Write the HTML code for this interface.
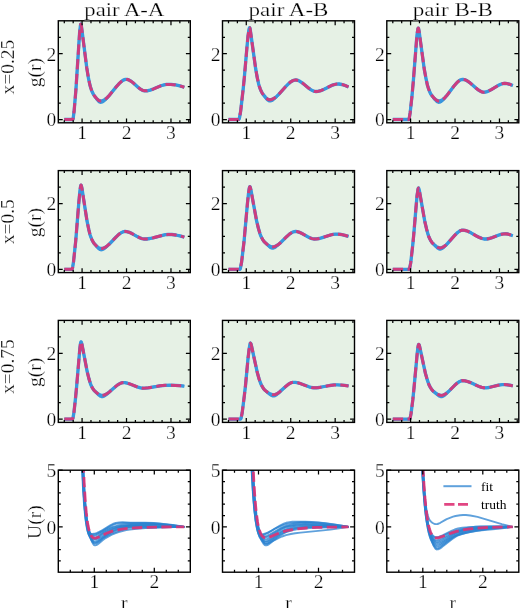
<!DOCTYPE html><html><head><meta charset="utf-8"><style>html,body{margin:0;padding:0;background:#fff;}svg{display:block;}</style></head><body>
<svg width="520" height="608" viewBox="0 0 520 608">
<rect x="0" y="0" width="520" height="608" fill="#fff"/>
<defs>
<clipPath id="c00"><rect x="58.30" y="20.80" width="132.00" height="102.00"/></clipPath>
<clipPath id="c01"><rect x="222.50" y="20.80" width="132.00" height="102.00"/></clipPath>
<clipPath id="c02"><rect x="386.80" y="20.80" width="132.00" height="102.00"/></clipPath>
<clipPath id="c10"><rect x="58.30" y="170.60" width="132.00" height="102.00"/></clipPath>
<clipPath id="c11"><rect x="222.50" y="170.60" width="132.00" height="102.00"/></clipPath>
<clipPath id="c12"><rect x="386.80" y="170.60" width="132.00" height="102.00"/></clipPath>
<clipPath id="c20"><rect x="58.30" y="320.40" width="132.00" height="102.00"/></clipPath>
<clipPath id="c21"><rect x="222.50" y="320.40" width="132.00" height="102.00"/></clipPath>
<clipPath id="c22"><rect x="386.80" y="320.40" width="132.00" height="102.00"/></clipPath>
<clipPath id="c30"><rect x="58.30" y="470.20" width="132.00" height="102.00"/></clipPath>
<clipPath id="c31"><rect x="222.50" y="470.20" width="132.00" height="102.00"/></clipPath>
<clipPath id="c32"><rect x="386.80" y="470.20" width="132.00" height="102.00"/></clipPath>
</defs>
<rect x="58.30" y="20.80" width="132.00" height="102.00" fill="#e6f1e5"/>
<g clip-path="url(#c00)" fill="none" stroke-linejoin="round">
<path d="M64.3,119.5L72.7,119.5L72.9,119.3L73.2,118.1L74.1,111.3L75.9,89.9L79.6,32.7L80.4,25.8L80.7,24.2L80.8,24.1L81.3,25.4L81.7,28.3L86.7,67.4L88.3,77.3L89.7,84.1L90.3,86.4L91.3,89.7L92.4,92.5L93.3,94.4L96.9,99.8L98.1,101.3L99.3,102.3L100.3,102.7L101.5,102.6L102.9,102.1L104.4,101.0L106.1,99.4L108.0,97.2L116.1,87.0L119.1,83.5L120.8,82.0L122.4,80.7L123.9,79.9L125.4,79.4L126.5,79.4L127.7,79.5L128.9,80.0L130.2,80.7L132.8,82.5L138.0,87.2L140.1,88.9L142.4,90.2L143.4,90.6L144.5,90.8L147.1,90.8L150.1,90.1L153.1,89.1L161.6,85.5L164.2,84.8L166.6,84.4L170.9,84.4L175.6,84.9L179.9,85.9L184.3,87.3" stroke="#3896de" stroke-width="2.4"/>
<path d="M64.3,119.5L72.7,119.5L72.9,119.3L73.2,118.1L74.1,111.3L75.9,89.9L79.6,32.7L80.4,25.8L80.7,24.2L80.8,24.1L81.3,25.4L81.7,28.3L86.7,67.4L88.3,77.3L89.7,84.0L90.3,86.4L91.3,89.6L92.4,92.3L93.3,94.1L94.3,95.7L96.4,98.3L97.6,99.5L98.8,100.5L99.6,100.8L100.3,101.1L101.8,101.0L103.6,100.3L105.6,99.0L107.4,97.4L109.4,95.3L116.6,86.4L119.6,83.1L121.2,81.6L122.7,80.5L124.1,79.8L125.4,79.4L126.5,79.4L127.7,79.5L128.9,80.0L130.2,80.7L132.8,82.5L138.0,87.2L140.1,88.9L142.4,90.2L143.4,90.6L144.5,90.8L147.1,90.8L150.1,90.1L153.1,89.1L161.6,85.5L164.2,84.8L166.6,84.4L170.9,84.4L175.6,84.9L179.9,85.9L184.3,87.3" stroke="#3896de" stroke-width="3.3"/>
<path d="M64.3,119.5L72.7,119.5L72.9,119.3L73.2,118.1L74.1,111.3L75.9,89.9L79.6,32.7L80.4,25.8L80.7,24.2L80.8,24.1L81.3,25.4L81.7,28.3L86.7,67.4L88.3,77.3L89.7,84.0L90.3,86.4L91.3,89.6L92.4,92.3L93.3,94.1L94.3,95.7L96.4,98.3L97.6,99.5L98.8,100.5L99.6,100.8L100.3,101.1L101.8,101.0L103.6,100.3L105.6,99.0L107.4,97.4L109.4,95.3L116.6,86.4L119.6,83.1L121.2,81.6L122.7,80.5L124.1,79.8L125.4,79.4L126.5,79.4L127.7,79.5L128.9,80.0L130.2,80.7L132.8,82.5L138.0,87.2L140.1,88.9L142.4,90.2L143.4,90.6L144.5,90.8L147.1,90.8L150.1,90.1L153.1,89.1L161.6,85.5L164.2,84.8L166.6,84.4L170.9,84.4L175.6,84.9L179.9,85.9L184.3,87.3" stroke="#de3274" stroke-width="3.0" stroke-opacity="0.9" stroke-dasharray="10.3 4.4"/>
</g>
<path d="M64.30 122.80v-2.50M64.30 20.80v2.50M73.19 122.80v-2.50M73.19 20.80v2.50M90.97 122.80v-2.50M90.97 20.80v2.50M99.86 122.80v-2.50M99.86 20.80v2.50M108.74 122.80v-2.50M108.74 20.80v2.50M117.63 122.80v-2.50M117.63 20.80v2.50M135.41 122.80v-2.50M135.41 20.80v2.50M144.30 122.80v-2.50M144.30 20.80v2.50M153.19 122.80v-2.50M153.19 20.80v2.50M162.08 122.80v-2.50M162.08 20.80v2.50M179.86 122.80v-2.50M179.86 20.80v2.50M188.74 122.80v-2.50M188.74 20.80v2.50M82.08 122.80v-4.40M82.08 20.80v4.40M126.52 122.80v-4.40M126.52 20.80v4.40M170.97 122.80v-4.40M170.97 20.80v4.40M58.30 103.06h2.50M190.30 103.06h-2.50M58.30 86.61h2.50M190.30 86.61h-2.50M58.30 70.15h2.50M190.30 70.15h-2.50M58.30 37.25h2.50M190.30 37.25h-2.50M58.30 119.51h4.40M190.30 119.51h-4.40M58.30 53.70h4.40M190.30 53.70h-4.40" stroke="#000" stroke-width="1.25" fill="none"/>
<rect x="58.30" y="20.80" width="132.00" height="102.00" fill="none" stroke="#000" stroke-width="1.4"/>
<rect x="222.50" y="20.80" width="132.00" height="102.00" fill="#e6f1e5"/>
<g clip-path="url(#c01)" fill="none" stroke-linejoin="round">
<path d="M228.5,119.5L238.7,119.5L239.0,119.2L239.5,117.6L240.2,113.9L240.7,110.8L243.2,88.8L244.3,77.9L247.0,46.7L248.0,36.1L248.9,30.0L249.2,28.5L249.5,27.8L249.7,27.7L250.0,28.4L250.4,30.7L255.7,68.9L257.3,78.0L258.7,84.1L259.3,86.2L260.3,89.2L261.4,91.8L262.3,93.6L265.9,98.6L267.1,100.0L268.3,100.9L269.4,101.4L270.6,101.3L271.9,100.9L273.4,99.9L275.1,98.4L277.0,96.4L285.3,87.0L288.3,83.9L289.9,82.5L291.6,81.3L293.1,80.6L294.6,80.1L295.8,80.0L297.1,80.2L298.5,80.6L299.8,81.3L302.7,83.2L308.2,87.8L310.7,89.6L313.1,90.9L314.3,91.3L315.3,91.5L316.5,91.5L317.9,91.4L320.7,90.7L323.7,89.4L331.7,85.4L334.1,84.6L336.3,84.1L338.9,84.0L341.9,84.5L345.0,85.4L348.5,86.9" stroke="#3896de" stroke-width="2.4"/>
<path d="M228.5,119.5L238.7,119.5L239.0,119.2L239.5,117.6L240.2,113.9L240.7,110.8L243.2,88.8L244.3,77.9L247.0,46.7L248.0,36.1L248.9,30.0L249.2,28.5L249.5,27.8L249.7,27.7L250.0,28.4L250.4,30.7L255.7,68.9L257.3,77.9L258.7,84.1L259.3,86.2L260.3,89.1L261.4,91.6L262.3,93.3L263.5,94.9L265.4,97.1L266.6,98.3L267.8,99.2L269.4,99.7L270.9,99.7L272.8,99.0L274.8,97.9L276.6,96.4L278.5,94.6L285.9,86.4L288.9,83.4L290.5,82.0L292.0,81.1L293.4,80.4L294.7,80.1L295.9,80.0L297.1,80.2L298.5,80.6L299.8,81.3L302.7,83.2L308.2,87.8L310.7,89.6L313.1,90.9L314.3,91.3L315.3,91.5L316.5,91.5L317.9,91.4L320.7,90.7L323.7,89.4L331.7,85.4L334.1,84.6L336.3,84.1L338.9,84.0L341.9,84.5L345.0,85.4L348.5,86.9" stroke="#3896de" stroke-width="3.3"/>
<path d="M228.5,119.5L238.7,119.5L239.0,119.2L239.5,117.6L240.2,113.9L240.7,110.8L243.2,88.8L244.3,77.9L247.0,46.7L248.0,36.1L248.9,30.0L249.2,28.5L249.5,27.8L249.7,27.7L250.0,28.4L250.4,30.7L255.7,68.9L257.3,77.9L258.7,84.1L259.3,86.2L260.3,89.1L261.4,91.6L262.3,93.3L263.5,94.9L265.4,97.1L266.6,98.3L267.8,99.2L269.4,99.7L270.9,99.7L272.8,99.0L274.8,97.9L276.6,96.4L278.5,94.6L285.9,86.4L288.9,83.4L290.5,82.0L292.0,81.1L293.4,80.4L294.7,80.1L295.9,80.0L297.1,80.2L298.5,80.6L299.8,81.3L302.7,83.2L308.2,87.8L310.7,89.6L313.1,90.9L314.3,91.3L315.3,91.5L316.5,91.5L317.9,91.4L320.7,90.7L323.7,89.4L331.7,85.4L334.1,84.6L336.3,84.1L338.9,84.0L341.9,84.5L345.0,85.4L348.5,86.9" stroke="#de3274" stroke-width="3.0" stroke-opacity="0.9" stroke-dasharray="10.3 4.4"/>
</g>
<path d="M228.50 122.80v-2.50M228.50 20.80v2.50M237.39 122.80v-2.50M237.39 20.80v2.50M255.17 122.80v-2.50M255.17 20.80v2.50M264.06 122.80v-2.50M264.06 20.80v2.50M272.94 122.80v-2.50M272.94 20.80v2.50M281.83 122.80v-2.50M281.83 20.80v2.50M299.61 122.80v-2.50M299.61 20.80v2.50M308.50 122.80v-2.50M308.50 20.80v2.50M317.39 122.80v-2.50M317.39 20.80v2.50M326.28 122.80v-2.50M326.28 20.80v2.50M344.06 122.80v-2.50M344.06 20.80v2.50M352.94 122.80v-2.50M352.94 20.80v2.50M246.28 122.80v-4.40M246.28 20.80v4.40M290.72 122.80v-4.40M290.72 20.80v4.40M335.17 122.80v-4.40M335.17 20.80v4.40M222.50 103.06h2.50M354.50 103.06h-2.50M222.50 86.61h2.50M354.50 86.61h-2.50M222.50 70.15h2.50M354.50 70.15h-2.50M222.50 37.25h2.50M354.50 37.25h-2.50M222.50 119.51h4.40M354.50 119.51h-4.40M222.50 53.70h4.40M354.50 53.70h-4.40" stroke="#000" stroke-width="1.25" fill="none"/>
<rect x="222.50" y="20.80" width="132.00" height="102.00" fill="none" stroke="#000" stroke-width="1.4"/>
<rect x="386.80" y="20.80" width="132.00" height="102.00" fill="#e6f1e5"/>
<g clip-path="url(#c02)" fill="none" stroke-linejoin="round">
<path d="M392.8,119.5L408.7,119.5L408.9,119.4L409.2,118.5L410.2,112.4L411.9,96.9L413.4,80.4L416.7,38.1L417.3,32.6L417.9,28.9L418.2,28.1L418.3,28.1L418.6,28.9L419.1,31.3L424.3,69.4L426.1,79.3L427.5,85.3L429.1,90.4L430.2,93.0L431.1,94.7L434.9,100.0L436.1,101.3L437.3,102.2L438.5,102.7L439.7,102.6L441.0,102.0L442.4,100.9L443.9,99.4L445.5,97.4L453.0,87.2L456.0,83.6L457.5,82.0L459.0,80.8L460.4,80.0L461.7,79.5L462.9,79.4L464.3,79.6L465.6,80.0L467.1,80.8L470.0,82.8L475.9,88.0L478.4,90.0L481.0,91.5L482.2,92.0L483.2,92.2L484.4,92.2L485.8,92.0L487.1,91.6L488.6,91.0L491.3,89.6L498.7,85.2L500.8,84.2L502.7,83.6L504.8,83.3L507.2,83.6L509.8,84.3L512.8,85.6" stroke="#3896de" stroke-width="2.4"/>
<path d="M392.8,119.5L408.7,119.5L408.9,119.4L409.2,118.5L410.2,112.4L411.9,96.9L413.4,80.4L416.7,38.1L417.3,32.6L417.9,28.9L418.2,28.1L418.3,28.1L418.6,28.9L419.1,31.3L424.3,69.4L426.0,78.5L427.3,84.7L428.1,87.4L429.0,89.9L430.0,92.5L430.9,94.2L431.7,95.3L434.1,98.2L435.5,99.5L436.7,100.4L438.2,101.0L439.7,101.0L441.5,100.3L443.3,99.1L444.9,97.6L446.9,95.4L453.8,86.3L456.5,83.1L458.0,81.6L459.3,80.6L460.7,79.8L461.9,79.5L463.1,79.4L464.3,79.6L465.6,80.0L467.1,80.8L470.0,82.8L475.9,88.0L478.4,90.0L481.0,91.5L482.2,92.0L483.2,92.2L484.4,92.2L485.8,92.0L487.1,91.6L488.6,91.0L491.3,89.6L498.7,85.2L500.8,84.2L502.7,83.6L504.8,83.3L507.2,83.6L509.8,84.3L512.8,85.6" stroke="#3896de" stroke-width="3.3"/>
<path d="M392.8,119.5L408.7,119.5L408.9,119.4L409.2,118.5L410.2,112.4L411.9,96.9L413.4,80.4L416.7,38.1L417.3,32.6L417.9,28.9L418.2,28.1L418.3,28.1L418.6,28.9L419.1,31.3L424.3,69.4L426.0,78.5L427.3,84.7L428.1,87.4L429.0,89.9L430.0,92.5L430.9,94.2L431.7,95.3L434.1,98.2L435.5,99.5L436.7,100.4L438.2,101.0L439.7,101.0L441.5,100.3L443.3,99.1L444.9,97.6L446.9,95.4L453.8,86.3L456.5,83.1L458.0,81.6L459.3,80.6L460.7,79.8L461.9,79.5L463.1,79.4L464.3,79.6L465.6,80.0L467.1,80.8L470.0,82.8L475.9,88.0L478.4,90.0L481.0,91.5L482.2,92.0L483.2,92.2L484.4,92.2L485.8,92.0L487.1,91.6L488.6,91.0L491.3,89.6L498.7,85.2L500.8,84.2L502.7,83.6L504.8,83.3L507.2,83.6L509.8,84.3L512.8,85.6" stroke="#de3274" stroke-width="3.0" stroke-opacity="0.9" stroke-dasharray="10.3 4.4"/>
</g>
<path d="M392.80 122.80v-2.50M392.80 20.80v2.50M401.69 122.80v-2.50M401.69 20.80v2.50M419.47 122.80v-2.50M419.47 20.80v2.50M428.36 122.80v-2.50M428.36 20.80v2.50M437.24 122.80v-2.50M437.24 20.80v2.50M446.13 122.80v-2.50M446.13 20.80v2.50M463.91 122.80v-2.50M463.91 20.80v2.50M472.80 122.80v-2.50M472.80 20.80v2.50M481.69 122.80v-2.50M481.69 20.80v2.50M490.58 122.80v-2.50M490.58 20.80v2.50M508.36 122.80v-2.50M508.36 20.80v2.50M517.24 122.80v-2.50M517.24 20.80v2.50M410.58 122.80v-4.40M410.58 20.80v4.40M455.02 122.80v-4.40M455.02 20.80v4.40M499.47 122.80v-4.40M499.47 20.80v4.40M386.80 103.06h2.50M518.80 103.06h-2.50M386.80 86.61h2.50M518.80 86.61h-2.50M386.80 70.15h2.50M518.80 70.15h-2.50M386.80 37.25h2.50M518.80 37.25h-2.50M386.80 119.51h4.40M518.80 119.51h-4.40M386.80 53.70h4.40M518.80 53.70h-4.40" stroke="#000" stroke-width="1.25" fill="none"/>
<rect x="386.80" y="20.80" width="132.00" height="102.00" fill="none" stroke="#000" stroke-width="1.4"/>
<rect x="58.30" y="170.60" width="132.00" height="102.00" fill="#e6f1e5"/>
<g clip-path="url(#c10)" fill="none" stroke-linejoin="round">
<path d="M64.3,269.3L72.0,269.3L72.3,268.9L72.7,267.0L73.6,261.2L75.7,241.1L78.7,203.8L79.8,192.1L80.5,186.7L81.0,185.1L81.1,185.1L81.4,185.8L81.9,188.0L87.0,220.9L88.8,229.6L90.1,235.0L90.7,236.9L91.9,239.8L93.7,243.3L97.5,247.9L98.7,249.1L99.9,249.9L100.9,250.2L102.0,250.1L103.2,249.7L104.6,248.8L107.4,246.3L115.2,237.9L118.4,234.8L120.0,233.5L121.5,232.5L123.0,231.9L124.4,231.5L125.4,231.5L126.6,231.6L129.3,232.3L132.0,233.6L137.3,236.6L139.5,237.7L141.8,238.6L143.9,239.0L146.6,239.0L149.9,238.5L153.2,237.8L162.5,235.3L165.5,234.7L168.1,234.5L171.8,234.5L175.7,235.0L179.8,235.8L184.3,237.1" stroke="#3896de" stroke-width="2.4"/>
<path d="M64.3,269.3L72.0,269.3L72.3,268.9L72.7,267.0L73.6,261.2L75.7,241.1L78.7,203.8L79.8,192.1L80.5,186.7L81.0,185.1L81.1,185.1L81.4,185.8L81.9,188.0L87.0,220.9L88.8,229.6L90.1,235.0L91.8,239.4L92.7,241.2L93.6,242.7L94.3,243.7L96.7,246.2L98.1,247.3L99.3,248.1L100.6,248.5L102.1,248.5L103.9,248.0L105.8,247.0L107.4,245.7L109.4,244.0L116.1,237.0L118.8,234.4L120.3,233.3L121.8,232.4L123.2,231.8L124.4,231.5L125.4,231.5L126.6,231.6L129.3,232.3L132.0,233.6L137.3,236.6L139.5,237.7L141.8,238.6L143.9,239.0L146.6,239.0L149.9,238.5L153.2,237.8L162.5,235.3L165.5,234.7L168.1,234.5L171.8,234.5L175.7,235.0L179.8,235.8L184.3,237.1" stroke="#3896de" stroke-width="3.3"/>
<path d="M64.3,269.3L72.0,269.3L72.3,268.9L72.7,267.0L73.6,261.2L75.7,241.1L78.7,203.8L79.8,192.1L80.5,186.7L81.0,185.1L81.1,185.1L81.4,185.8L81.9,188.0L87.0,220.9L88.8,229.6L90.1,235.0L91.8,239.4L92.7,241.2L93.6,242.7L94.3,243.7L96.7,246.2L98.1,247.3L99.3,248.1L100.6,248.5L102.1,248.5L103.9,248.0L105.8,247.0L107.4,245.7L109.4,244.0L116.1,237.0L118.8,234.4L120.3,233.3L121.8,232.4L123.2,231.8L124.4,231.5L125.4,231.5L126.6,231.6L129.3,232.3L132.0,233.6L137.3,236.6L139.5,237.7L141.8,238.6L143.9,239.0L146.6,239.0L149.9,238.5L153.2,237.8L162.5,235.3L165.5,234.7L168.1,234.5L171.8,234.5L175.7,235.0L179.8,235.8L184.3,237.1" stroke="#de3274" stroke-width="3.0" stroke-opacity="0.9" stroke-dasharray="10.3 4.4"/>
</g>
<path d="M64.30 272.60v-2.50M64.30 170.60v2.50M73.19 272.60v-2.50M73.19 170.60v2.50M90.97 272.60v-2.50M90.97 170.60v2.50M99.86 272.60v-2.50M99.86 170.60v2.50M108.74 272.60v-2.50M108.74 170.60v2.50M117.63 272.60v-2.50M117.63 170.60v2.50M135.41 272.60v-2.50M135.41 170.60v2.50M144.30 272.60v-2.50M144.30 170.60v2.50M153.19 272.60v-2.50M153.19 170.60v2.50M162.08 272.60v-2.50M162.08 170.60v2.50M179.86 272.60v-2.50M179.86 170.60v2.50M188.74 272.60v-2.50M188.74 170.60v2.50M82.08 272.60v-4.40M82.08 170.60v4.40M126.52 272.60v-4.40M126.52 170.60v4.40M170.97 272.60v-4.40M170.97 170.60v4.40M58.30 252.86h2.50M190.30 252.86h-2.50M58.30 236.41h2.50M190.30 236.41h-2.50M58.30 219.95h2.50M190.30 219.95h-2.50M58.30 187.05h2.50M190.30 187.05h-2.50M58.30 269.31h4.40M190.30 269.31h-4.40M58.30 203.50h4.40M190.30 203.50h-4.40" stroke="#000" stroke-width="1.25" fill="none"/>
<rect x="58.30" y="170.60" width="132.00" height="102.00" fill="none" stroke="#000" stroke-width="1.4"/>
<rect x="222.50" y="170.60" width="132.00" height="102.00" fill="#e6f1e5"/>
<g clip-path="url(#c11)" fill="none" stroke-linejoin="round">
<path d="M228.5,269.3L239.9,269.3L240.2,268.8L240.5,267.8L241.6,262.1L244.0,241.8L247.4,203.8L248.5,193.5L249.2,188.6L249.5,187.3L249.8,186.7L250.0,186.8L250.3,187.4L250.9,189.9L256.6,220.9L258.5,228.9L260.0,233.9L260.8,235.9L261.8,238.1L262.9,240.0L263.9,241.6L268.3,246.2L269.7,247.4L270.9,248.2L272.1,248.5L273.1,248.5L274.3,248.2L275.7,247.4L278.2,245.2L285.7,237.6L288.9,234.6L290.5,233.4L292.0,232.5L293.4,231.9L294.7,231.5L295.8,231.5L297.0,231.6L299.5,232.3L302.2,233.6L307.3,236.5L309.6,237.7L311.9,238.6L314.0,239.0L316.5,238.9L319.4,238.5L322.4,237.6L330.5,235.0L333.0,234.4L335.3,234.1L338.3,234.2L341.4,234.5L344.7,235.3L348.5,236.4" stroke="#3896de" stroke-width="2.4"/>
<path d="M228.5,269.3L239.9,269.3L240.2,268.8L240.5,267.8L241.6,262.1L244.0,241.8L247.4,203.8L248.5,193.5L249.2,188.6L249.5,187.3L249.8,186.7L250.0,186.8L250.3,187.4L250.9,189.9L256.6,220.9L258.4,228.3L259.9,233.5L260.6,235.5L261.7,237.7L262.7,239.6L263.8,241.2L264.7,242.2L267.1,244.3L268.6,245.5L270.0,246.3L271.6,246.8L273.1,246.9L274.9,246.5L276.7,245.6L278.4,244.5L280.2,243.0L286.9,236.4L289.6,234.0L291.0,233.1L292.3,232.3L293.7,231.8L294.9,231.5L295.9,231.5L297.1,231.6L299.5,232.3L302.2,233.6L307.3,236.5L309.6,237.7L311.9,238.6L314.0,239.0L316.5,238.9L319.4,238.5L322.4,237.6L330.5,235.0L333.0,234.4L335.3,234.1L338.3,234.2L341.4,234.5L344.7,235.3L348.5,236.4" stroke="#3896de" stroke-width="3.3"/>
<path d="M228.5,269.3L239.9,269.3L240.2,268.8L240.5,267.8L241.6,262.1L244.0,241.8L247.4,203.8L248.5,193.5L249.2,188.6L249.5,187.3L249.8,186.7L250.0,186.8L250.3,187.4L250.9,189.9L256.6,220.9L258.4,228.3L259.9,233.5L260.6,235.5L261.7,237.7L262.7,239.6L263.8,241.2L264.7,242.2L267.1,244.3L268.6,245.5L270.0,246.3L271.6,246.8L273.1,246.9L274.9,246.5L276.7,245.6L278.4,244.5L280.2,243.0L286.9,236.4L289.6,234.0L291.0,233.1L292.3,232.3L293.7,231.8L294.9,231.5L295.9,231.5L297.1,231.6L299.5,232.3L302.2,233.6L307.3,236.5L309.6,237.7L311.9,238.6L314.0,239.0L316.5,238.9L319.4,238.5L322.4,237.6L330.5,235.0L333.0,234.4L335.3,234.1L338.3,234.2L341.4,234.5L344.7,235.3L348.5,236.4" stroke="#de3274" stroke-width="3.0" stroke-opacity="0.9" stroke-dasharray="10.3 4.4"/>
</g>
<path d="M228.50 272.60v-2.50M228.50 170.60v2.50M237.39 272.60v-2.50M237.39 170.60v2.50M255.17 272.60v-2.50M255.17 170.60v2.50M264.06 272.60v-2.50M264.06 170.60v2.50M272.94 272.60v-2.50M272.94 170.60v2.50M281.83 272.60v-2.50M281.83 170.60v2.50M299.61 272.60v-2.50M299.61 170.60v2.50M308.50 272.60v-2.50M308.50 170.60v2.50M317.39 272.60v-2.50M317.39 170.60v2.50M326.28 272.60v-2.50M326.28 170.60v2.50M344.06 272.60v-2.50M344.06 170.60v2.50M352.94 272.60v-2.50M352.94 170.60v2.50M246.28 272.60v-4.40M246.28 170.60v4.40M290.72 272.60v-4.40M290.72 170.60v4.40M335.17 272.60v-4.40M335.17 170.60v4.40M222.50 252.86h2.50M354.50 252.86h-2.50M222.50 236.41h2.50M354.50 236.41h-2.50M222.50 219.95h2.50M354.50 219.95h-2.50M222.50 187.05h2.50M354.50 187.05h-2.50M222.50 269.31h4.40M354.50 269.31h-4.40M222.50 203.50h4.40M354.50 203.50h-4.40" stroke="#000" stroke-width="1.25" fill="none"/>
<rect x="222.50" y="170.60" width="132.00" height="102.00" fill="none" stroke="#000" stroke-width="1.4"/>
<rect x="386.80" y="170.60" width="132.00" height="102.00" fill="#e6f1e5"/>
<g clip-path="url(#c12)" fill="none" stroke-linejoin="round">
<path d="M392.8,269.3L409.2,269.3L409.3,269.2L409.6,268.5L410.7,263.0L412.8,244.5L413.7,235.2L416.1,206.3L417.1,195.2L417.9,189.9L418.2,188.5L418.5,188.0L418.9,188.9L419.4,190.9L424.8,221.5L426.6,229.2L428.1,234.6L428.8,236.7L429.9,239.0L430.9,241.0L432.0,242.7L436.1,247.2L437.4,248.4L438.5,249.1L439.7,249.5L440.9,249.5L442.1,249.0L443.4,248.1L446.1,245.4L453.3,236.9L456.2,233.8L457.7,232.5L459.2,231.4L460.5,230.7L461.9,230.2L462.9,230.2L464.4,230.3L465.9,230.6L467.4,231.1L470.6,232.6L476.6,236.1L479.2,237.4L481.7,238.4L484.1,239.0L486.5,239.0L489.4,238.5L492.2,237.6L499.6,234.8L501.7,234.2L503.6,233.9L505.7,233.8L507.7,234.0L509.9,234.7L512.8,235.7" stroke="#3896de" stroke-width="2.4"/>
<path d="M392.8,269.3L409.2,269.3L409.3,269.2L409.6,268.5L410.7,263.0L412.8,244.5L413.7,235.2L416.1,206.3L417.1,195.2L417.9,189.9L418.2,188.5L418.5,188.0L418.9,188.9L419.4,190.9L424.8,221.5L426.6,229.2L428.1,234.6L428.8,236.7L429.9,239.0L430.9,240.9L431.8,242.3L432.7,243.3L435.0,245.4L436.5,246.5L437.7,247.3L439.4,247.9L440.9,247.9L442.5,247.4L444.3,246.3L446.0,245.0L447.8,243.2L454.2,235.9L456.9,233.1L458.3,232.0L459.6,231.1L460.8,230.5L462.0,230.2L463.2,230.2L464.6,230.3L466.1,230.7L467.6,231.2L470.6,232.6L476.6,236.1L479.2,237.4L481.7,238.4L484.1,239.0L486.5,239.0L489.4,238.5L492.2,237.6L499.6,234.8L501.7,234.2L503.6,233.9L505.7,233.8L507.7,234.0L509.9,234.7L512.8,235.7" stroke="#3896de" stroke-width="3.3"/>
<path d="M392.8,269.3L409.2,269.3L409.3,269.2L409.6,268.5L410.7,263.0L412.8,244.5L413.7,235.2L416.1,206.3L417.1,195.2L417.9,189.9L418.2,188.5L418.5,188.0L418.9,188.9L419.4,190.9L424.8,221.5L426.6,229.2L428.1,234.6L428.8,236.7L429.9,239.0L430.9,240.9L431.8,242.3L432.7,243.3L435.0,245.4L436.5,246.5L437.7,247.3L439.4,247.9L440.9,247.9L442.5,247.4L444.3,246.3L446.0,245.0L447.8,243.2L454.2,235.9L456.9,233.1L458.3,232.0L459.6,231.1L460.8,230.5L462.0,230.2L463.2,230.2L464.6,230.3L466.1,230.7L467.6,231.2L470.6,232.6L476.6,236.1L479.2,237.4L481.7,238.4L484.1,239.0L486.5,239.0L489.4,238.5L492.2,237.6L499.6,234.8L501.7,234.2L503.6,233.9L505.7,233.8L507.7,234.0L509.9,234.7L512.8,235.7" stroke="#de3274" stroke-width="3.0" stroke-opacity="0.9" stroke-dasharray="10.3 4.4"/>
</g>
<path d="M392.80 272.60v-2.50M392.80 170.60v2.50M401.69 272.60v-2.50M401.69 170.60v2.50M419.47 272.60v-2.50M419.47 170.60v2.50M428.36 272.60v-2.50M428.36 170.60v2.50M437.24 272.60v-2.50M437.24 170.60v2.50M446.13 272.60v-2.50M446.13 170.60v2.50M463.91 272.60v-2.50M463.91 170.60v2.50M472.80 272.60v-2.50M472.80 170.60v2.50M481.69 272.60v-2.50M481.69 170.60v2.50M490.58 272.60v-2.50M490.58 170.60v2.50M508.36 272.60v-2.50M508.36 170.60v2.50M517.24 272.60v-2.50M517.24 170.60v2.50M410.58 272.60v-4.40M410.58 170.60v4.40M455.02 272.60v-4.40M455.02 170.60v4.40M499.47 272.60v-4.40M499.47 170.60v4.40M386.80 252.86h2.50M518.80 252.86h-2.50M386.80 236.41h2.50M518.80 236.41h-2.50M386.80 219.95h2.50M518.80 219.95h-2.50M386.80 187.05h2.50M518.80 187.05h-2.50M386.80 269.31h4.40M518.80 269.31h-4.40M386.80 203.50h4.40M518.80 203.50h-4.40" stroke="#000" stroke-width="1.25" fill="none"/>
<rect x="386.80" y="170.60" width="132.00" height="102.00" fill="none" stroke="#000" stroke-width="1.4"/>
<rect x="58.30" y="320.40" width="132.00" height="102.00" fill="#e6f1e5"/>
<g clip-path="url(#c20)" fill="none" stroke-linejoin="round">
<path d="M64.3,419.1L72.6,419.1L73.0,417.9L73.9,412.8L75.4,399.3L76.6,386.8L79.8,348.9L80.5,343.4L81.0,341.8L81.1,341.8L81.4,342.4L81.9,344.1L87.3,372.2L89.1,379.3L90.4,383.7L91.2,385.6L92.2,387.7L94.2,390.8L98.2,395.0L99.6,396.1L100.6,396.7L101.7,397.0L102.7,397.0L103.8,396.7L105.0,396.0L107.3,394.3L113.9,388.0L117.0,385.4L118.5,384.3L120.0,383.5L121.4,382.9L122.6,382.6L124.8,382.7L127.5,383.2L130.4,384.2L138.0,387.2L140.4,387.8L142.7,388.2L145.4,388.1L148.4,387.8L160.1,385.8L165.1,385.3L170.0,385.2L175.4,385.4L180.1,385.7L184.3,386.2" stroke="#3896de" stroke-width="2.4"/>
<path d="M64.3,419.1L72.6,419.1L73.0,417.9L73.9,412.8L75.4,399.3L76.6,386.8L79.8,348.9L80.5,343.4L81.0,341.8L81.1,341.8L81.4,342.4L81.9,344.1L87.3,372.2L89.1,379.3L90.4,383.6L91.2,385.5L92.2,387.6L93.3,389.3L94.2,390.5L97.3,393.3L98.7,394.3L99.9,394.9L101.2,395.3L102.6,395.4L104.2,395.0L105.9,394.3L107.4,393.4L109.2,392.1L115.4,386.7L117.9,384.7L120.5,383.3L121.7,382.8L122.7,382.6L125.0,382.7L127.5,383.2L130.4,384.2L138.0,387.2L140.4,387.8L142.7,388.2L145.4,388.1L148.4,387.8L160.1,385.8L165.1,385.3L170.0,385.2L175.4,385.4L180.1,385.7L184.3,386.2" stroke="#3896de" stroke-width="3.3"/>
<path d="M64.3,419.1L72.6,419.1L73.0,417.9L73.9,412.8L75.4,399.3L76.6,386.8L79.8,348.9L80.5,343.4L81.0,341.8L81.1,341.8L81.4,342.4L81.9,344.1L87.3,372.2L89.1,379.3L90.4,383.6L91.2,385.5L92.2,387.6L93.3,389.3L94.2,390.5L97.3,393.3L98.7,394.3L99.9,394.9L101.2,395.3L102.6,395.4L104.2,395.0L105.9,394.3L107.4,393.4L109.2,392.1L115.4,386.7L117.9,384.7L120.5,383.3L121.7,382.8L122.7,382.6L125.0,382.7L127.5,383.2L130.4,384.2L138.0,387.2L140.4,387.8L142.7,388.2L145.4,388.1L148.4,387.8L160.1,385.8L165.1,385.3L170.0,385.2L175.4,385.4L180.1,385.7L184.3,386.2" stroke="#de3274" stroke-width="3.0" stroke-opacity="0.9" stroke-dasharray="10.3 4.4"/>
</g>
<path d="M64.30 422.40v-2.50M64.30 320.40v2.50M73.19 422.40v-2.50M73.19 320.40v2.50M90.97 422.40v-2.50M90.97 320.40v2.50M99.86 422.40v-2.50M99.86 320.40v2.50M108.74 422.40v-2.50M108.74 320.40v2.50M117.63 422.40v-2.50M117.63 320.40v2.50M135.41 422.40v-2.50M135.41 320.40v2.50M144.30 422.40v-2.50M144.30 320.40v2.50M153.19 422.40v-2.50M153.19 320.40v2.50M162.08 422.40v-2.50M162.08 320.40v2.50M179.86 422.40v-2.50M179.86 320.40v2.50M188.74 422.40v-2.50M188.74 320.40v2.50M82.08 422.40v-4.40M82.08 320.40v4.40M126.52 422.40v-4.40M126.52 320.40v4.40M170.97 422.40v-4.40M170.97 320.40v4.40M58.30 402.66h2.50M190.30 402.66h-2.50M58.30 386.21h2.50M190.30 386.21h-2.50M58.30 369.75h2.50M190.30 369.75h-2.50M58.30 336.85h2.50M190.30 336.85h-2.50M58.30 419.11h4.40M190.30 419.11h-4.40M58.30 353.30h4.40M190.30 353.30h-4.40" stroke="#000" stroke-width="1.25" fill="none"/>
<rect x="58.30" y="320.40" width="132.00" height="102.00" fill="none" stroke="#000" stroke-width="1.4"/>
<rect x="222.50" y="320.40" width="132.00" height="102.00" fill="#e6f1e5"/>
<g clip-path="url(#c21)" fill="none" stroke-linejoin="round">
<path d="M228.5,419.1L240.5,419.1L241.0,418.3L241.7,415.2L242.2,412.6L244.4,395.1L245.5,385.5L248.0,358.7L249.1,349.2L250.0,344.1L250.3,343.2L250.4,343.1L250.9,343.7L251.5,345.9L257.2,372.2L259.1,379.0L260.6,383.3L261.4,385.0L262.4,386.9L263.6,388.8L264.7,390.1L269.2,394.3L270.6,395.4L271.8,396.0L272.8,396.4L273.9,396.4L274.9,396.1L276.1,395.5L278.4,393.6L284.5,387.6L287.5,385.0L289.0,383.9L290.4,383.1L291.7,382.6L292.9,382.3L295.3,382.4L298.0,382.9L300.9,383.8L309.0,386.8L311.6,387.5L313.8,387.8L316.4,387.8L319.2,387.5L329.7,385.5L334.1,384.9L337.4,384.9L341.3,385.1L344.9,385.4L348.5,385.9" stroke="#3896de" stroke-width="2.4"/>
<path d="M228.5,419.1L240.5,419.1L241.0,418.3L241.7,415.2L242.2,412.6L244.4,395.1L245.5,385.5L248.0,358.7L249.1,349.2L250.0,344.1L250.3,343.2L250.4,343.1L250.9,343.7L251.5,345.9L257.2,372.2L259.1,379.0L260.6,383.3L261.4,385.0L262.6,387.1L263.6,388.7L264.7,390.0L265.6,390.8L268.0,392.6L270.7,394.1L272.2,394.6L273.7,394.8L275.2,394.5L276.9,393.8L278.4,392.9L280.0,391.6L286.0,386.2L288.4,384.3L290.8,382.9L292.0,382.5L293.1,382.3L295.5,382.4L298.2,382.9L301.0,383.8L309.0,386.8L311.6,387.5L313.8,387.8L316.4,387.8L319.2,387.5L329.7,385.5L334.1,384.9L337.4,384.9L341.3,385.1L344.9,385.4L348.5,385.9" stroke="#3896de" stroke-width="3.3"/>
<path d="M228.5,419.1L240.5,419.1L241.0,418.3L241.7,415.2L242.2,412.6L244.4,395.1L245.5,385.5L248.0,358.7L249.1,349.2L250.0,344.1L250.3,343.2L250.4,343.1L250.9,343.7L251.5,345.9L257.2,372.2L259.1,379.0L260.6,383.3L261.4,385.0L262.6,387.1L263.6,388.7L264.7,390.0L265.6,390.8L268.0,392.6L270.7,394.1L272.2,394.6L273.7,394.8L275.2,394.5L276.9,393.8L278.4,392.9L280.0,391.6L286.0,386.2L288.4,384.3L290.8,382.9L292.0,382.5L293.1,382.3L295.5,382.4L298.2,382.9L301.0,383.8L309.0,386.8L311.6,387.5L313.8,387.8L316.4,387.8L319.2,387.5L329.7,385.5L334.1,384.9L337.4,384.9L341.3,385.1L344.9,385.4L348.5,385.9" stroke="#de3274" stroke-width="3.0" stroke-opacity="0.9" stroke-dasharray="10.3 4.4"/>
</g>
<path d="M228.50 422.40v-2.50M228.50 320.40v2.50M237.39 422.40v-2.50M237.39 320.40v2.50M255.17 422.40v-2.50M255.17 320.40v2.50M264.06 422.40v-2.50M264.06 320.40v2.50M272.94 422.40v-2.50M272.94 320.40v2.50M281.83 422.40v-2.50M281.83 320.40v2.50M299.61 422.40v-2.50M299.61 320.40v2.50M308.50 422.40v-2.50M308.50 320.40v2.50M317.39 422.40v-2.50M317.39 320.40v2.50M326.28 422.40v-2.50M326.28 320.40v2.50M344.06 422.40v-2.50M344.06 320.40v2.50M352.94 422.40v-2.50M352.94 320.40v2.50M246.28 422.40v-4.40M246.28 320.40v4.40M290.72 422.40v-4.40M290.72 320.40v4.40M335.17 422.40v-4.40M335.17 320.40v4.40M222.50 402.66h2.50M354.50 402.66h-2.50M222.50 386.21h2.50M354.50 386.21h-2.50M222.50 369.75h2.50M354.50 369.75h-2.50M222.50 336.85h2.50M354.50 336.85h-2.50M222.50 419.11h4.40M354.50 419.11h-4.40M222.50 353.30h4.40M354.50 353.30h-4.40" stroke="#000" stroke-width="1.25" fill="none"/>
<rect x="222.50" y="320.40" width="132.00" height="102.00" fill="none" stroke="#000" stroke-width="1.4"/>
<rect x="386.80" y="320.40" width="132.00" height="102.00" fill="#e6f1e5"/>
<g clip-path="url(#c22)" fill="none" stroke-linejoin="round">
<path d="M392.8,419.1L409.6,419.1L409.8,419.1L410.1,418.4L411.1,413.3L412.8,399.9L414.1,387.0L417.3,352.4L417.9,347.7L418.3,345.3L418.6,344.5L418.8,344.4L419.1,344.8L419.7,346.8L425.4,373.3L427.3,380.1L428.8,384.4L429.6,386.0L430.6,387.9L432.7,390.9L437.3,395.1L438.6,396.1L439.7,396.7L440.9,397.0L441.9,397.0L443.0,396.7L444.2,396.0L446.7,393.7L453.5,386.5L456.5,383.7L458.0,382.5L459.5,381.6L460.8,381.0L462.0,380.7L463.1,380.6L464.6,380.7L467.6,381.5L470.6,382.6L479.0,386.5L481.6,387.3L484.0,387.8L486.2,387.8L488.9,387.5L498.4,385.2L502.3,384.6L504.5,384.6L507.1,384.8L509.8,385.2L512.8,385.9" stroke="#3896de" stroke-width="2.4"/>
<path d="M392.8,419.1L409.6,419.1L409.8,419.1L410.1,418.4L411.1,413.3L412.8,399.9L414.1,387.0L417.3,352.4L417.9,347.7L418.3,345.3L418.6,344.5L418.8,344.4L419.1,344.8L419.7,346.8L425.4,373.3L427.2,379.6L428.7,384.0L429.4,385.7L430.5,387.6L431.5,389.2L432.6,390.6L433.5,391.4L435.8,393.1L437.3,394.1L438.6,394.8L440.3,395.3L441.8,395.4L443.4,395.0L445.1,394.2L446.6,393.2L448.4,391.6L454.7,385.3L457.2,383.1L459.8,381.4L461.0,380.9L462.2,380.6L464.7,380.8L467.6,381.5L470.6,382.6L479.0,386.5L481.6,387.3L484.0,387.8L486.2,387.8L488.9,387.5L498.4,385.2L502.3,384.6L504.5,384.6L507.1,384.8L509.8,385.2L512.8,385.9" stroke="#3896de" stroke-width="3.3"/>
<path d="M392.8,419.1L409.6,419.1L409.8,419.1L410.1,418.4L411.1,413.3L412.8,399.9L414.1,387.0L417.3,352.4L417.9,347.7L418.3,345.3L418.6,344.5L418.8,344.4L419.1,344.8L419.7,346.8L425.4,373.3L427.2,379.6L428.7,384.0L429.4,385.7L430.5,387.6L431.5,389.2L432.6,390.6L433.5,391.4L435.8,393.1L437.3,394.1L438.6,394.8L440.3,395.3L441.8,395.4L443.4,395.0L445.1,394.2L446.6,393.2L448.4,391.6L454.7,385.3L457.2,383.1L459.8,381.4L461.0,380.9L462.2,380.6L464.7,380.8L467.6,381.5L470.6,382.6L479.0,386.5L481.6,387.3L484.0,387.8L486.2,387.8L488.9,387.5L498.4,385.2L502.3,384.6L504.5,384.6L507.1,384.8L509.8,385.2L512.8,385.9" stroke="#de3274" stroke-width="3.0" stroke-opacity="0.9" stroke-dasharray="10.3 4.4"/>
</g>
<path d="M392.80 422.40v-2.50M392.80 320.40v2.50M401.69 422.40v-2.50M401.69 320.40v2.50M419.47 422.40v-2.50M419.47 320.40v2.50M428.36 422.40v-2.50M428.36 320.40v2.50M437.24 422.40v-2.50M437.24 320.40v2.50M446.13 422.40v-2.50M446.13 320.40v2.50M463.91 422.40v-2.50M463.91 320.40v2.50M472.80 422.40v-2.50M472.80 320.40v2.50M481.69 422.40v-2.50M481.69 320.40v2.50M490.58 422.40v-2.50M490.58 320.40v2.50M508.36 422.40v-2.50M508.36 320.40v2.50M517.24 422.40v-2.50M517.24 320.40v2.50M410.58 422.40v-4.40M410.58 320.40v4.40M455.02 422.40v-4.40M455.02 320.40v4.40M499.47 422.40v-4.40M499.47 320.40v4.40M386.80 402.66h2.50M518.80 402.66h-2.50M386.80 386.21h2.50M518.80 386.21h-2.50M386.80 369.75h2.50M518.80 369.75h-2.50M386.80 336.85h2.50M518.80 336.85h-2.50M386.80 419.11h4.40M518.80 419.11h-4.40M386.80 353.30h4.40M518.80 353.30h-4.40" stroke="#000" stroke-width="1.25" fill="none"/>
<rect x="386.80" y="320.40" width="132.00" height="102.00" fill="none" stroke="#000" stroke-width="1.4"/>
<rect x="58.30" y="470.20" width="132.00" height="102.00" fill="#fff"/>
<g clip-path="url(#c30)" fill="none" stroke-linejoin="round">
<path d="M64.3,447.5L82.5,447.5L82.7,450.1L83.7,475.6L84.5,491.0L85.5,505.7L86.7,518.2L88.1,527.9L88.7,530.9L89.7,534.9L90.9,538.9L91.9,541.5L93.1,543.9L94.1,545.1L94.8,545.3L95.4,545.3L96.2,545.1L97.2,544.6L98.8,543.5L102.6,540.3L104.6,538.8L108.2,536.6L111.8,534.7L115.0,533.3L118.6,532.1L122.4,531.0L126.2,530.1L129.8,529.5L134.2,529.0L145.6,528.1L163.9,527.3L184.3,526.9" stroke="#2a82d0" stroke-width="1.9" stroke-opacity="0.75"/>
<path d="M64.3,447.5L81.5,447.5L82.5,472.9L83.5,492.6L84.7,509.3L85.9,520.6L87.3,529.3L87.9,532.0L88.7,534.7L89.9,537.4L91.3,540.1L92.5,541.9L93.7,543.1L94.6,543.5L95.2,543.5L96.0,543.4L97.0,542.9L98.6,541.9L102.4,538.8L104.0,537.6L107.4,535.6L111.0,533.9L114.6,532.4L122.4,529.5L125.8,528.5L128.6,527.9L131.0,527.6L134.6,527.4L147.6,527.6L184.3,526.9" stroke="#2a82d0" stroke-width="1.9" stroke-opacity="0.75"/>
<path d="M64.3,447.5L81.9,447.5L82.1,448.6L83.1,474.8L84.1,493.8L85.1,507.7L86.3,519.4L87.5,527.4L88.1,530.3L88.9,533.4L90.1,536.5L91.3,539.1L92.5,541.0L93.7,542.2L94.6,542.6L95.4,542.6L96.4,542.4L97.6,541.8L99.2,540.8L103.4,537.6L108.2,534.2L111.2,532.3L114.0,530.9L116.4,529.9L120.0,528.8L123.2,528.0L126.4,527.3L130.8,526.7L136.0,526.5L147.8,526.7L184.3,526.9" stroke="#2a82d0" stroke-width="1.9" stroke-opacity="0.75"/>
<path d="M64.3,447.5L81.5,447.5L81.7,449.4L82.9,479.8L83.7,494.5L84.7,508.2L85.9,519.7L86.5,523.9L87.3,528.3L87.9,530.9L88.7,533.6L89.7,535.8L91.1,538.2L92.3,539.9L93.5,541.0L94.4,541.4L95.2,541.5L96.2,541.3L97.4,540.7L99.2,539.6L103.6,536.5L107.0,534.3L110.6,532.3L114.2,530.6L118.0,529.2L122.0,527.9L125.4,527.0L128.4,526.5L131.8,526.1L136.0,526.0L148.2,526.4L172.5,526.8L184.3,526.9" stroke="#2a82d0" stroke-width="1.9" stroke-opacity="0.75"/>
<path d="M64.3,447.5L81.1,447.5L81.3,448.6L82.1,470.5L83.1,490.9L84.1,505.7L85.3,518.1L86.5,526.3L87.3,530.2L88.1,533.0L88.9,535.1L89.5,536.0L90.7,537.4L91.9,538.4L92.9,539.0L94.1,539.3L95.4,539.4L96.6,539.1L97.8,538.6L99.4,537.7L109.8,531.1L113.8,529.0L116.0,528.2L119.8,527.2L123.6,526.4L127.4,525.9L131.8,525.4L136.0,525.4L148.4,526.0L171.9,526.7L184.3,526.9" stroke="#2a82d0" stroke-width="1.9" stroke-opacity="0.75"/>
<path d="M64.3,447.5L81.9,447.5L82.7,469.0L83.7,489.6L84.7,504.6L85.9,517.1L86.5,521.7L87.3,526.5L87.9,529.3L88.7,532.2L89.5,534.1L90.5,535.8L91.5,537.1L92.5,537.9L93.5,538.4L94.6,538.7L95.6,538.6L96.6,538.3L98.2,537.3L102.2,534.1L104.0,532.9L108.0,530.9L112.2,529.2L115.8,528.1L119.8,527.0L124.0,526.2L128.0,525.6L133.2,525.2L140.0,524.8L149.0,524.6L155.3,524.7L161.7,524.9L168.7,525.3L184.3,526.9" stroke="#2a82d0" stroke-width="1.9" stroke-opacity="0.75"/>
<path d="M64.3,447.5L81.9,447.5L82.9,472.4L83.7,488.6L84.7,503.9L85.7,514.8L86.9,524.0L87.5,527.3L88.3,530.7L88.9,532.7L89.9,534.8L90.9,536.2L91.9,537.1L92.9,537.6L94.1,537.8L95.4,537.7L96.4,537.3L98.2,536.3L102.2,533.2L104.2,531.8L108.4,529.6L112.2,528.0L114.8,527.2L117.6,526.5L121.0,525.9L124.8,525.4L130.8,524.9L137.0,524.6L144.2,524.5L152.0,524.6L159.5,524.8L167.3,525.3L184.3,526.9" stroke="#2a82d0" stroke-width="1.9" stroke-opacity="0.75"/>
<path d="M64.3,447.5L82.5,447.5L82.7,449.9L83.5,470.9L84.3,487.3L85.3,502.6L86.3,513.7L87.5,523.0L88.7,529.1L89.3,531.2L90.1,533.3L90.9,534.6L91.9,535.5L92.7,535.9L93.5,535.9L95.0,535.7L96.2,535.3L98.0,534.4L102.8,531.5L106.0,529.7L109.4,528.1L112.8,526.9L115.6,526.1L119.2,525.3L123.0,524.7L127.2,524.3L132.8,523.9L138.4,523.7L145.4,523.7L153.4,524.0L160.7,524.4L168.1,525.0L184.3,526.9" stroke="#2a82d0" stroke-width="1.9" stroke-opacity="0.75"/>
<path d="M64.3,447.5L82.3,447.5L83.1,468.7L83.9,485.6L84.9,501.4L85.9,512.8L87.1,522.2L88.3,528.4L88.9,530.5L89.5,532.0L90.3,533.4L91.1,534.2L91.9,534.6L92.9,534.7L95.2,534.3L96.4,534.0L100.0,532.2L109.2,526.8L112.4,525.1L114.2,524.4L115.8,523.9L118.0,523.5L120.4,523.2L124.0,523.0L141.2,522.9L147.0,523.0L152.4,523.3L159.9,523.8L167.7,524.6L175.9,525.6L184.3,526.9" stroke="#2a82d0" stroke-width="1.9" stroke-opacity="0.75"/>
<path d="M64.3,447.5L81.9,447.5L82.9,472.4L83.7,488.5L84.5,500.9L85.5,512.5L86.7,521.9L87.9,528.0L88.5,530.1L89.1,531.7L89.9,532.9L90.7,533.6L91.5,534.0L92.5,534.0L95.6,533.4L97.0,532.9L99.2,531.9L102.6,530.0L110.2,525.4L112.8,524.0L115.8,522.9L119.2,522.4L122.6,522.3L130.2,522.6L145.0,522.6L153.8,523.0L161.1,523.6L168.5,524.4L176.3,525.5L184.3,526.9" stroke="#2a82d0" stroke-width="1.9" stroke-opacity="0.75"/>
<path d="M64.3,436.2L82.3,436.2L83.5,468.3L84.3,485.2L85.3,501.1L86.3,512.7L87.5,522.4L88.1,525.9L88.9,529.7L89.7,532.4L90.5,534.5L91.5,536.2L92.5,537.3L93.3,537.8L94.4,538.1L95.4,538.1L96.4,537.9L98.8,537.0L106.6,533.3L111.6,531.4L114.8,530.5L118.2,529.8L122.0,529.1L126.0,528.6L135.0,527.8L146.4,527.3L161.9,527.0L184.3,526.9" stroke="#de3274" stroke-width="2.8" stroke-opacity="0.9" stroke-dasharray="10.3 4.4"/>
</g>
<path d="M70.30 572.20v-2.50M70.30 470.20v2.50M82.30 572.20v-2.50M82.30 470.20v2.50M106.30 572.20v-2.50M106.30 470.20v2.50M118.30 572.20v-2.50M118.30 470.20v2.50M130.30 572.20v-2.50M130.30 470.20v2.50M142.30 572.20v-2.50M142.30 470.20v2.50M166.30 572.20v-2.50M166.30 470.20v2.50M178.30 572.20v-2.50M178.30 470.20v2.50M94.30 572.20v-4.40M94.30 470.20v4.40M154.30 572.20v-4.40M154.30 470.20v4.40M58.30 560.87h2.50M190.30 560.87h-2.50M58.30 549.53h2.50M190.30 549.53h-2.50M58.30 538.20h2.50M190.30 538.20h-2.50M58.30 515.53h2.50M190.30 515.53h-2.50M58.30 504.20h2.50M190.30 504.20h-2.50M58.30 492.87h2.50M190.30 492.87h-2.50M58.30 481.53h2.50M190.30 481.53h-2.50M58.30 526.87h4.40M190.30 526.87h-4.40M58.30 470.20h4.40M190.30 470.20h-4.40" stroke="#000" stroke-width="1.25" fill="none"/>
<rect x="58.30" y="470.20" width="132.00" height="102.00" fill="none" stroke="#000" stroke-width="1.4"/>
<rect x="222.50" y="470.20" width="132.00" height="102.00" fill="#fff"/>
<g clip-path="url(#c31)" fill="none" stroke-linejoin="round">
<path d="M228.5,447.5L250.7,447.5L250.9,448.9L251.9,473.0L253.1,494.0L254.3,508.8L255.7,520.8L257.1,528.8L257.9,532.1L259.0,535.3L259.8,537.3L262.6,542.3L263.8,544.1L264.8,545.1L265.6,545.4L266.4,545.4L267.4,545.1L268.6,544.4L270.2,543.3L274.2,539.9L278.6,536.6L281.6,534.6L284.2,533.1L286.2,532.2L288.6,531.3L294.6,529.7L297.8,529.1L300.8,528.7L309.8,528.0L322.5,527.5L348.5,526.9" stroke="#2a82d0" stroke-width="1.9" stroke-opacity="0.75"/>
<path d="M228.5,447.5L250.5,447.5L250.7,447.6L251.7,472.1L252.9,493.4L254.1,508.4L255.5,520.4L256.3,525.3L257.1,529.3L257.9,532.3L259.0,535.3L259.8,537.0L262.2,540.7L263.6,542.5L264.6,543.4L265.4,543.7L266.2,543.8L267.2,543.5L268.2,543.0L270.0,541.8L274.0,538.5L276.6,536.7L280.6,534.2L284.2,532.4L286.8,531.3L290.8,529.9L294.2,528.9L297.4,528.1L301.8,527.5L308.0,527.1L348.5,526.9" stroke="#2a82d0" stroke-width="1.9" stroke-opacity="0.75"/>
<path d="M228.5,447.5L250.7,447.5L250.9,448.7L251.9,472.8L253.1,493.9L254.3,508.7L255.7,520.5L257.1,528.3L257.9,531.5L259.0,534.4L259.8,536.2L261.2,538.2L262.8,540.2L264.2,541.4L265.0,541.8L265.8,541.9L267.0,541.8L268.2,541.4L271.0,539.7L275.8,536.4L281.0,532.6L283.8,530.9L285.2,530.2L286.6,529.8L293.0,528.4L298.4,527.6L304.6,527.0L312.0,526.5L320.7,526.2L332.9,526.2L348.5,526.9" stroke="#2a82d0" stroke-width="1.9" stroke-opacity="0.75"/>
<path d="M228.5,447.5L251.3,447.5L251.5,449.9L252.5,473.5L253.5,491.2L254.7,506.6L256.1,519.0L257.5,527.2L258.3,530.5L259.4,533.6L260.2,535.3L261.8,538.0L263.2,539.8L264.4,540.8L265.2,541.2L266.0,541.2L267.0,541.0L268.2,540.5L270.0,539.4L274.2,536.1L278.0,533.5L281.4,531.4L284.4,529.9L286.6,529.1L289.8,528.1L293.2,527.3L296.6,526.7L300.6,526.1L304.8,525.8L309.6,525.6L315.2,525.6L330.9,525.9L348.5,526.9" stroke="#2a82d0" stroke-width="1.9" stroke-opacity="0.75"/>
<path d="M228.5,447.5L251.9,447.5L252.9,471.2L253.9,489.3L255.1,505.2L256.3,516.4L257.7,525.4L258.6,529.0L259.4,531.8L260.2,533.9L261.2,535.8L262.4,537.5L263.6,538.6L264.6,539.1L265.8,539.3L267.0,539.1L268.2,538.6L269.8,537.6L274.2,534.3L279.4,530.7L282.2,529.0L284.6,527.9L286.2,527.3L288.8,526.7L295.6,525.5L302.6,524.8L308.2,524.7L348.5,526.9" stroke="#2a82d0" stroke-width="1.9" stroke-opacity="0.75"/>
<path d="M228.5,447.5L252.1,447.5L252.3,447.7L253.3,471.5L254.3,489.4L255.3,502.9L256.5,514.7L257.9,524.0L259.4,530.1L260.2,532.4L261.0,534.2L262.0,535.7L263.0,536.6L264.0,537.1L265.2,537.3L266.6,537.1L268.0,536.6L270.4,535.3L280.2,529.2L282.8,527.9L285.0,527.0L286.8,526.4L290.4,525.7L297.2,524.6L301.8,524.2L305.2,524.0L314.0,524.2L330.7,525.1L348.5,526.9" stroke="#2a82d0" stroke-width="1.9" stroke-opacity="0.75"/>
<path d="M228.5,447.5L251.5,447.5L252.7,474.1L253.5,488.5L254.5,502.3L255.7,514.2L257.1,523.6L258.6,529.6L259.4,531.9L260.0,533.2L261.0,534.6L262.0,535.5L263.0,536.0L264.2,536.2L265.4,536.2L266.8,535.9L269.6,534.6L279.6,528.7L282.2,527.4L284.6,526.4L288.0,525.3L292.4,524.2L296.8,523.4L301.2,522.8L305.4,522.6L310.2,522.9L332.3,525.1L348.5,526.9" stroke="#2a82d0" stroke-width="1.9" stroke-opacity="0.75"/>
<path d="M228.5,447.5L251.5,447.5L251.7,449.5L252.5,468.9L253.5,487.7L254.5,501.7L255.5,512.2L256.7,521.2L258.1,528.2L259.0,530.9L259.8,532.9L260.4,533.9L261.2,534.7L262.0,535.0L263.0,535.0L266.6,533.7L268.4,532.8L273.2,529.8L275.8,528.3L279.4,526.6L282.8,525.2L285.6,524.3L288.6,523.6L291.8,523.1L295.2,522.7L300.8,522.3L306.0,522.2L311.8,522.4L318.7,522.8L325.7,523.5L332.9,524.4L340.5,525.5L348.5,526.9" stroke="#2a82d0" stroke-width="1.9" stroke-opacity="0.75"/>
<path d="M228.5,447.5L251.3,447.5L251.5,449.5L252.3,469.0L253.3,487.8L254.1,499.4L255.1,510.4L256.3,519.9L257.5,526.3L258.3,529.3L259.2,531.5L260.0,533.1L260.8,533.9L261.8,534.3L262.8,534.3L267.6,532.7L271.6,530.6L280.4,525.3L284.4,523.4L286.2,522.8L288.0,522.4L292.4,521.8L297.0,521.6L305.2,521.7L311.6,522.0L318.2,522.4L325.3,523.2L332.7,524.2L340.5,525.4L348.5,526.9" stroke="#2a82d0" stroke-width="1.9" stroke-opacity="0.75"/>
<path d="M228.5,447.5L251.5,447.5L252.5,471.6L253.5,489.8L254.7,505.7L256.1,518.5L257.5,527.0L258.3,530.5L259.4,533.8L260.6,536.7L262.4,540.2L263.6,542.1L264.8,543.3L265.4,543.6L266.2,543.7L268.4,543.2L270.6,542.2L278.4,538.1L282.0,536.5L286.0,535.1L290.8,534.0L295.2,533.2L300.6,532.6L323.1,530.4L330.3,529.6L339.1,528.4L348.5,526.9" stroke="#2a82d0" stroke-width="1.9" stroke-opacity="0.75"/>
<path d="M228.5,436.2L251.9,436.2L252.9,462.3L253.9,482.5L254.9,497.7L256.1,511.0L257.5,521.7L258.3,526.0L259.2,529.3L260.0,531.9L261.0,534.3L262.0,535.9L263.2,537.1L264.2,537.7L265.2,538.0L266.4,538.0L267.6,537.8L270.2,536.9L278.6,533.3L283.6,531.6L286.8,530.7L290.2,530.0L297.8,528.8L306.4,528.0L316.8,527.4L330.3,527.1L348.5,526.9" stroke="#de3274" stroke-width="2.8" stroke-opacity="0.9" stroke-dasharray="10.3 4.4"/>
</g>
<path d="M234.50 572.20v-2.50M234.50 470.20v2.50M246.50 572.20v-2.50M246.50 470.20v2.50M270.50 572.20v-2.50M270.50 470.20v2.50M282.50 572.20v-2.50M282.50 470.20v2.50M294.50 572.20v-2.50M294.50 470.20v2.50M306.50 572.20v-2.50M306.50 470.20v2.50M330.50 572.20v-2.50M330.50 470.20v2.50M342.50 572.20v-2.50M342.50 470.20v2.50M258.50 572.20v-4.40M258.50 470.20v4.40M318.50 572.20v-4.40M318.50 470.20v4.40M222.50 560.87h2.50M354.50 560.87h-2.50M222.50 549.53h2.50M354.50 549.53h-2.50M222.50 538.20h2.50M354.50 538.20h-2.50M222.50 515.53h2.50M354.50 515.53h-2.50M222.50 504.20h2.50M354.50 504.20h-2.50M222.50 492.87h2.50M354.50 492.87h-2.50M222.50 481.53h2.50M354.50 481.53h-2.50M222.50 526.87h4.40M354.50 526.87h-4.40M222.50 470.20h4.40M354.50 470.20h-4.40" stroke="#000" stroke-width="1.25" fill="none"/>
<rect x="222.50" y="470.20" width="132.00" height="102.00" fill="none" stroke="#000" stroke-width="1.4"/>
<rect x="386.80" y="470.20" width="132.00" height="102.00" fill="#fff"/>
<g clip-path="url(#c32)" fill="none" stroke-linejoin="round">
<path d="M392.8,447.5L421.8,447.5L422.0,448.1L423.3,473.6L424.5,492.4L425.9,508.8L427.3,520.8L428.9,530.5L429.9,534.9L430.9,538.4L432.3,542.5L433.7,545.8L434.9,547.9L435.5,548.7L436.1,549.2L436.7,549.5L437.5,549.4L438.5,549.2L439.7,548.6L441.9,547.1L451.9,539.2L454.9,537.1L456.5,536.1L458.1,535.4L463.7,533.5L469.5,532.0L476.1,530.9L498.0,528.7L512.8,526.9" stroke="#2a82d0" stroke-width="1.9" stroke-opacity="0.75"/>
<path d="M392.8,447.5L421.0,447.5L422.2,472.4L423.5,491.7L424.7,505.8L425.7,515.1L426.5,521.2L428.1,530.3L429.1,534.4L430.1,537.7L430.9,539.8L433.3,544.6L434.7,546.7L435.9,547.9L436.5,548.2L437.3,548.2L438.3,548.0L439.5,547.5L441.3,546.3L445.1,543.2L450.3,539.4L453.7,537.0L457.1,535.3L461.1,534.0L467.5,532.5L483.0,529.7L488.4,528.9L500.6,527.6L512.8,526.9" stroke="#2a82d0" stroke-width="1.9" stroke-opacity="0.75"/>
<path d="M392.8,447.5L421.0,447.5L422.2,472.2L423.5,491.6L424.7,505.7L425.7,514.9L426.5,520.9L428.1,529.8L429.1,533.8L430.1,536.9L430.9,538.9L432.9,542.6L434.3,544.6L435.7,545.9L436.5,546.3L437.1,546.4L438.1,546.2L439.3,545.8L441.3,544.6L445.5,541.7L449.7,538.9L454.9,536.0L457.5,534.8L460.7,533.5L464.1,532.4L467.5,531.5L473.5,530.2L481.3,529.3L495.6,528.1L512.8,526.9" stroke="#2a82d0" stroke-width="1.9" stroke-opacity="0.75"/>
<path d="M392.8,447.5L421.6,447.5L421.8,449.0L423.3,477.8L424.3,492.9L425.7,508.8L427.1,520.1L428.7,529.0L429.5,532.3L430.5,535.5L431.7,538.5L433.1,541.2L434.5,543.2L435.7,544.3L436.5,544.7L437.1,544.7L438.3,544.5L439.5,544.1L441.9,542.8L452.1,536.5L456.1,534.4L458.9,533.2L462.3,532.0L465.7,530.9L468.9,530.1L472.3,529.4L476.5,528.8L486.2,527.9L498.4,527.2L512.8,526.9" stroke="#2a82d0" stroke-width="1.9" stroke-opacity="0.75"/>
<path d="M392.8,447.5L421.6,447.5L421.8,449.3L423.1,474.6L424.1,490.4L425.5,506.9L426.9,518.6L427.7,523.6L428.5,527.7L429.3,531.0L430.3,534.3L431.3,536.7L432.7,539.4L434.1,541.3L435.3,542.4L436.3,542.9L437.1,543.0L438.5,542.8L439.9,542.4L442.1,541.3L446.3,539.0L452.9,534.8L455.9,533.2L457.5,532.5L459.9,531.7L465.5,530.4L472.7,529.2L481.5,528.4L495.0,527.6L512.8,526.9" stroke="#2a82d0" stroke-width="1.9" stroke-opacity="0.75"/>
<path d="M392.8,447.5L421.4,447.5L421.6,447.9L422.6,469.9L423.9,489.7L425.3,506.3L426.7,518.1L427.5,523.1L428.3,527.2L429.1,530.5L430.1,533.7L430.9,535.6L432.3,538.1L433.5,539.7L434.9,540.9L435.9,541.4L436.7,541.6L437.9,541.5L439.3,541.1L441.7,540.0L451.1,534.8L455.7,532.6L458.7,531.5L462.7,530.2L466.1,529.3L469.3,528.6L474.5,528.0L482.3,527.5L496.0,527.1L512.8,526.9" stroke="#2a82d0" stroke-width="1.9" stroke-opacity="0.75"/>
<path d="M392.8,447.5L421.2,447.5L422.2,469.4L423.5,489.5L424.7,504.1L426.1,516.4L426.9,521.6L427.7,525.8L428.5,529.2L429.5,532.4L430.5,534.9L431.3,536.3L432.7,538.0L434.1,539.1L435.3,539.8L436.5,540.1L437.7,540.0L439.1,539.7L441.9,538.5L451.5,533.4L454.9,531.8L458.3,530.7L464.1,529.6L469.1,528.9L478.3,527.9L488.8,527.1L500.4,526.7L512.8,526.9" stroke="#2a82d0" stroke-width="1.9" stroke-opacity="0.75"/>
<path d="M392.8,447.5L421.4,447.5L421.6,449.3L422.9,474.6L423.9,490.5L425.1,504.8L426.3,515.2L427.7,523.7L428.5,527.3L429.5,530.7L430.3,532.8L431.1,534.4L432.3,535.9L433.5,536.9L434.7,537.5L435.9,537.8L437.1,537.8L438.5,537.6L440.9,536.8L448.9,533.2L454.5,531.1L458.9,529.9L463.9,528.6L467.9,527.8L471.5,527.2L475.7,526.8L480.5,526.7L512.8,526.9" stroke="#2a82d0" stroke-width="1.9" stroke-opacity="0.75"/>
<path d="M392.8,447.5L421.8,447.5L423.1,472.6L424.1,488.8L425.3,503.5L426.5,514.0L427.9,522.7L428.7,526.3L429.5,529.2L430.3,531.4L431.3,533.5L432.5,535.2L433.7,536.3L434.9,536.8L436.1,537.1L437.5,537.1L439.1,536.7L442.5,535.4L451.5,530.9L454.7,529.5L458.1,528.4L462.3,527.7L480.7,526.4L491.0,526.1L500.8,526.2L512.8,526.9" stroke="#2a82d0" stroke-width="1.9" stroke-opacity="0.75"/>
<path d="M392.8,447.5L421.8,447.5L422.0,447.7L422.9,465.6L423.7,480.2L424.9,497.9L425.5,504.0L427.1,512.6L427.9,515.8L428.7,518.2L429.3,519.5L429.9,520.5L431.3,521.9L432.7,523.0L433.9,523.6L435.1,524.0L436.3,524.1L437.5,524.0L438.9,523.5L440.3,522.8L444.9,520.1L446.7,519.1L453.1,516.7L455.5,516.0L460.1,515.3L463.1,515.0L465.9,515.0L470.3,515.5L477.5,516.9L501.8,524.1L512.8,526.9" stroke="#2a82d0" stroke-width="1.9" stroke-opacity="0.75"/>
<path d="M392.8,436.2L421.4,436.2L421.6,437.2L422.6,461.4L423.9,483.4L425.1,499.5L426.3,511.3L427.7,521.0L428.5,525.1L429.5,529.0L430.5,532.0L431.5,534.1L432.5,535.6L433.7,536.8L434.7,537.4L435.9,537.8L437.3,537.9L438.9,537.6L441.9,536.7L450.5,533.3L455.5,531.7L462.1,530.1L469.7,528.9L477.5,528.1L487.0,527.5L498.4,527.1L512.8,526.9" stroke="#de3274" stroke-width="2.8" stroke-opacity="0.9" stroke-dasharray="10.3 4.4"/>
</g>
<path d="M398.80 572.20v-2.50M398.80 470.20v2.50M410.80 572.20v-2.50M410.80 470.20v2.50M434.80 572.20v-2.50M434.80 470.20v2.50M446.80 572.20v-2.50M446.80 470.20v2.50M458.80 572.20v-2.50M458.80 470.20v2.50M470.80 572.20v-2.50M470.80 470.20v2.50M494.80 572.20v-2.50M494.80 470.20v2.50M506.80 572.20v-2.50M506.80 470.20v2.50M422.80 572.20v-4.40M422.80 470.20v4.40M482.80 572.20v-4.40M482.80 470.20v4.40M386.80 560.87h2.50M518.80 560.87h-2.50M386.80 549.53h2.50M518.80 549.53h-2.50M386.80 538.20h2.50M518.80 538.20h-2.50M386.80 515.53h2.50M518.80 515.53h-2.50M386.80 504.20h2.50M518.80 504.20h-2.50M386.80 492.87h2.50M518.80 492.87h-2.50M386.80 481.53h2.50M518.80 481.53h-2.50M386.80 526.87h4.40M518.80 526.87h-4.40M386.80 470.20h4.40M518.80 470.20h-4.40" stroke="#000" stroke-width="1.25" fill="none"/>
<rect x="386.80" y="470.20" width="132.00" height="102.00" fill="none" stroke="#000" stroke-width="1.4"/>
<g font-family="'Liberation Serif', 'DejaVu Serif', serif" fill="#000" stroke="#fff" stroke-width="0.25">
<text x="124.30" y="16.10" text-anchor="middle" font-size="19.50" textLength="80" lengthAdjust="spacingAndGlyphs">pair A-A</text>
<text x="288.50" y="16.10" text-anchor="middle" font-size="19.50" textLength="80" lengthAdjust="spacingAndGlyphs">pair A-B</text>
<text x="452.80" y="16.10" text-anchor="middle" font-size="19.50" textLength="80" lengthAdjust="spacingAndGlyphs">pair B-B</text>
<text x="56.20" y="126.41" text-anchor="end" font-size="19.50" >0</text>
<text x="56.20" y="60.60" text-anchor="end" font-size="19.50" >2</text>
<text x="82.08" y="138.90" text-anchor="middle" font-size="19.50" >1</text>
<text x="126.52" y="138.90" text-anchor="middle" font-size="19.50" >2</text>
<text x="170.97" y="138.90" text-anchor="middle" font-size="19.50" >3</text>
<text x="220.40" y="126.41" text-anchor="end" font-size="19.50" >0</text>
<text x="220.40" y="60.60" text-anchor="end" font-size="19.50" >2</text>
<text x="246.28" y="138.90" text-anchor="middle" font-size="19.50" >1</text>
<text x="290.72" y="138.90" text-anchor="middle" font-size="19.50" >2</text>
<text x="335.17" y="138.90" text-anchor="middle" font-size="19.50" >3</text>
<text x="384.70" y="126.41" text-anchor="end" font-size="19.50" >0</text>
<text x="384.70" y="60.60" text-anchor="end" font-size="19.50" >2</text>
<text x="410.58" y="138.90" text-anchor="middle" font-size="19.50" >1</text>
<text x="455.02" y="138.90" text-anchor="middle" font-size="19.50" >2</text>
<text x="499.47" y="138.90" text-anchor="middle" font-size="19.50" >3</text>
<text x="56.20" y="276.21" text-anchor="end" font-size="19.50" >0</text>
<text x="56.20" y="210.40" text-anchor="end" font-size="19.50" >2</text>
<text x="82.08" y="288.70" text-anchor="middle" font-size="19.50" >1</text>
<text x="126.52" y="288.70" text-anchor="middle" font-size="19.50" >2</text>
<text x="170.97" y="288.70" text-anchor="middle" font-size="19.50" >3</text>
<text x="220.40" y="276.21" text-anchor="end" font-size="19.50" >0</text>
<text x="220.40" y="210.40" text-anchor="end" font-size="19.50" >2</text>
<text x="246.28" y="288.70" text-anchor="middle" font-size="19.50" >1</text>
<text x="290.72" y="288.70" text-anchor="middle" font-size="19.50" >2</text>
<text x="335.17" y="288.70" text-anchor="middle" font-size="19.50" >3</text>
<text x="384.70" y="276.21" text-anchor="end" font-size="19.50" >0</text>
<text x="384.70" y="210.40" text-anchor="end" font-size="19.50" >2</text>
<text x="410.58" y="288.70" text-anchor="middle" font-size="19.50" >1</text>
<text x="455.02" y="288.70" text-anchor="middle" font-size="19.50" >2</text>
<text x="499.47" y="288.70" text-anchor="middle" font-size="19.50" >3</text>
<text x="56.20" y="426.01" text-anchor="end" font-size="19.50" >0</text>
<text x="56.20" y="360.20" text-anchor="end" font-size="19.50" >2</text>
<text x="82.08" y="438.50" text-anchor="middle" font-size="19.50" >1</text>
<text x="126.52" y="438.50" text-anchor="middle" font-size="19.50" >2</text>
<text x="170.97" y="438.50" text-anchor="middle" font-size="19.50" >3</text>
<text x="220.40" y="426.01" text-anchor="end" font-size="19.50" >0</text>
<text x="220.40" y="360.20" text-anchor="end" font-size="19.50" >2</text>
<text x="246.28" y="438.50" text-anchor="middle" font-size="19.50" >1</text>
<text x="290.72" y="438.50" text-anchor="middle" font-size="19.50" >2</text>
<text x="335.17" y="438.50" text-anchor="middle" font-size="19.50" >3</text>
<text x="384.70" y="426.01" text-anchor="end" font-size="19.50" >0</text>
<text x="384.70" y="360.20" text-anchor="end" font-size="19.50" >2</text>
<text x="410.58" y="438.50" text-anchor="middle" font-size="19.50" >1</text>
<text x="455.02" y="438.50" text-anchor="middle" font-size="19.50" >2</text>
<text x="499.47" y="438.50" text-anchor="middle" font-size="19.50" >3</text>
<text x="56.20" y="533.77" text-anchor="end" font-size="19.50" >0</text>
<text x="56.20" y="477.10" text-anchor="end" font-size="19.50" >5</text>
<text x="94.30" y="588.30" text-anchor="middle" font-size="19.50" >1</text>
<text x="154.30" y="588.30" text-anchor="middle" font-size="19.50" >2</text>
<text x="124.30" y="608.60" text-anchor="middle" font-size="19.50" >r</text>
<text x="220.40" y="533.77" text-anchor="end" font-size="19.50" >0</text>
<text x="220.40" y="477.10" text-anchor="end" font-size="19.50" >5</text>
<text x="258.50" y="588.30" text-anchor="middle" font-size="19.50" >1</text>
<text x="318.50" y="588.30" text-anchor="middle" font-size="19.50" >2</text>
<text x="288.50" y="608.60" text-anchor="middle" font-size="19.50" >r</text>
<text x="384.70" y="533.77" text-anchor="end" font-size="19.50" >0</text>
<text x="384.70" y="477.10" text-anchor="end" font-size="19.50" >5</text>
<text x="422.80" y="588.30" text-anchor="middle" font-size="19.50" >1</text>
<text x="482.80" y="588.30" text-anchor="middle" font-size="19.50" >2</text>
<text x="452.80" y="608.60" text-anchor="middle" font-size="19.50" >r</text>
<text x="14.00" y="94.50" text-anchor="start" font-size="19.50" transform="rotate(-90 14.0 94.50)">x=0.25</text>
<text x="41.10" y="72.70" text-anchor="middle" font-size="19.50" transform="rotate(-90 41.1 72.70)">g(r)</text>
<text x="14.00" y="244.30" text-anchor="start" font-size="19.50" transform="rotate(-90 14.0 244.30)">x=0.5</text>
<text x="41.10" y="222.50" text-anchor="middle" font-size="19.50" transform="rotate(-90 41.1 222.50)">g(r)</text>
<text x="14.00" y="394.10" text-anchor="start" font-size="19.50" transform="rotate(-90 14.0 394.10)">x=0.75</text>
<text x="41.10" y="372.30" text-anchor="middle" font-size="19.50" transform="rotate(-90 41.1 372.30)">g(r)</text>
<text x="41.10" y="522.10" text-anchor="middle" font-size="19.50" transform="rotate(-90 41.1 522.10)">U(r)</text>
<path d="M443.4 486.2H471.5" stroke="#2a82d0" stroke-width="2.0" stroke-opacity="0.75"/>
<path d="M444.2 504.4H468" stroke="#de3274" stroke-width="2.8" stroke-opacity="0.9" stroke-dasharray="10.3 3.5"/>
<text x="481.00" y="490.80" text-anchor="start" font-size="13.50" stroke="none">fit</text>
<text x="481.00" y="508.50" text-anchor="start" font-size="13.50" stroke="none">truth</text>
</g>
</svg></body></html>
